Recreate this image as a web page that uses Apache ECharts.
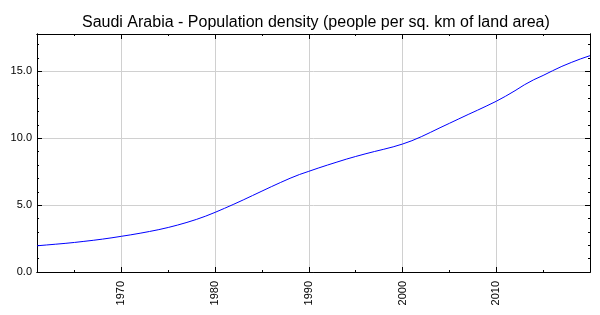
<!DOCTYPE html>
<html><head><meta charset="utf-8">
<script src="https://cdn.jsdelivr.net/npm/echarts@6/dist/echarts.min.js"></script>
<style>html,body{margin:0;padding:0;background:#fff}#c{width:600px;height:315px}</style>
</head><body><div id="c"></div>
<script>
const titleText = 'Saudi Arabia - Population density (people per sq. km of land area)';
const years = [1961,1962,1963,1964,1965,1966,1967,1968,1969,1970,
  1971,1972,1973,1974,1975,1976,1977,1978,1979,1980,
  1981,1982,1983,1984,1985,1986,1987,1988,1989,1990,
  1991,1992,1993,1994,1995,1996,1997,1998,1999,2000,
  2001,2002,2003,2004,2005,2006,2007,2008,2009,2010,
  2011,2012,2013,2014,2015,2016,2017,2018,2019,2020];
const density = [1.96,2.02,2.08,2.14,2.21,2.29,2.37,2.46,2.56,2.67,
  2.78,2.90,3.03,3.17,3.33,3.51,3.71,3.93,4.18,4.46,
  4.76,5.07,5.39,5.72,6.05,6.38,6.70,7.01,7.29,7.53,
  7.77,8.00,8.22,8.44,8.64,8.83,9.01,9.18,9.36,9.57,
  9.82,10.12,10.45,10.79,11.12,11.45,11.78,12.10,12.43,12.77,
  13.15,13.56,14.00,14.38,14.70,15.05,15.38,15.67,15.94,16.18];
const xMajor = [1970,1980,1990,2000,2010];
const xMinor = [1965,1975,1985,1995,2005,2015];
const yMajor = [0,5,10,15];
const yMinor = [1,2,3,4,6,7,8,9,11,12,13,14,16,17];
const xMin = 1961, xMax = 2020, yMin = 0, yMax = 17.8;

const font = 'Liberation Sans, Arial, sans-serif';
const lineStyle = {color:'#000', width:1};
function xAx(pos, ticks, len, labels, split){
  return {type:'value', position:pos, min:xMin, max:xMax,
    axisLine:{show:true, onZero:false, lineStyle},
    axisTick:{show:true, inside:true, length:len, customValues:ticks, lineStyle},
    axisLabel:{show:labels, customValues:xMajor, rotate:90, margin:9, fontSize:11, color:'#000', fontFamily:font,
      formatter:v=>String(v)},
    splitLine:{show:split, lineStyle:{color:'#d0d0d0', width:1}}};
}
function yAx(pos, ticks, len, labels, split){
  return {type:'value', position:pos, min:yMin, max:yMax,
    axisLine:{show:true, onZero:false, lineStyle},
    axisTick:{show:true, inside:true, length:len, customValues:ticks, lineStyle},
    axisLabel:{show:labels, customValues:yMajor, margin:5, fontSize:11, color:'#000', fontFamily:font,
      formatter:v=>v.toFixed(1)},
    splitLine:{show:split, lineStyle:{color:'#d0d0d0', width:1}}};
}
const chart = echarts.init(document.getElementById('c'), null, {renderer:'canvas'});
chart.setOption({
  animation:false,
  backgroundColor:'#fff',
  title:{text:titleText, left:77, top:10, textStyle:{fontSize:16, fontWeight:'normal', color:'#000', fontFamily:font}},
  grid:{left:37, right:10, top:34, bottom:43, containLabel:false},
  xAxis:[xAx('bottom', xMajor, 5, true, true), xAx('bottom', xMinor, 2, false, false),
         xAx('top', xMajor, 5, false, false), xAx('top', xMinor, 2, false, false)],
  yAxis:[yAx('left', yMajor, 5, true, true), yAx('left', yMinor, 2, false, false),
         yAx('right', yMajor, 5, false, false), yAx('right', yMinor, 2, false, false)],
  series:[{type:'line', xAxisIndex:0, yAxisIndex:0, showSymbol:false, symbol:'none',
    data: years.map((y,i)=>[y, density[i]]),
    lineStyle:{color:'#0000ff', width:1}, z:10}]
});
</script></body></html>
